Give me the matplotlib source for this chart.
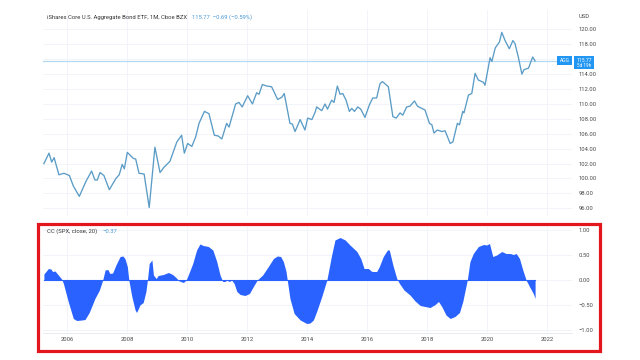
import matplotlib
matplotlib.use("Agg")
import matplotlib.pyplot as plt
from matplotlib.patches import Rectangle

plt.rcParams['font.family'] = ['Roboto', 'DejaVu Sans']

# ---------------- data ----------------
price_years = [2005.23, 2005.40, 2005.49, 2005.57, 2005.73, 2005.90, 2006.08, 2006.21, 2006.41,
               2006.63, 2006.82, 2006.93, 2007.01, 2007.10, 2007.23, 2007.41, 2007.63, 2007.74,
               2007.84, 2007.91, 2008.01, 2008.21, 2008.29, 2008.40, 2008.57, 2008.74, 2008.93,
               2009.10, 2009.23, 2009.43, 2009.66, 2009.82, 2009.91, 2010.02, 2010.16, 2010.29,
               2010.40, 2010.58, 2010.73, 2010.91, 2011.04, 2011.16, 2011.32, 2011.40, 2011.62,
               2011.73, 2011.84, 2012.02, 2012.18, 2012.32, 2012.40, 2012.51, 2012.66, 2012.82,
               2013.02, 2013.16, 2013.24, 2013.43, 2013.51, 2013.60, 2013.77, 2013.93, 2014.02,
               2014.16, 2014.27, 2014.32, 2014.49, 2014.60, 2014.68, 2014.82, 2014.90, 2015.01,
               2015.10, 2015.19, 2015.30, 2015.41, 2015.49, 2015.58, 2015.69, 2015.79, 2015.93,
               2016.08, 2016.19, 2016.32, 2016.43, 2016.51, 2016.60, 2016.71, 2016.86, 2016.97,
               2017.10, 2017.19, 2017.32, 2017.43, 2017.58, 2017.68, 2017.82, 2017.93, 2018.08,
               2018.16, 2018.23, 2018.34, 2018.49, 2018.60, 2018.77, 2018.86, 2019.01, 2019.08,
               2019.19, 2019.23, 2019.38, 2019.49, 2019.60, 2019.71, 2019.88, 2019.93, 2020.10,
               2020.16, 2020.27, 2020.41, 2020.49, 2020.60, 2020.74, 2020.86, 2020.93, 2021.04,
               2021.16, 2021.23, 2021.38, 2021.52, 2021.60]
price_values = [102.0, 103.4, 102.2, 102.8, 100.5, 100.7, 100.4, 99.0, 97.6,
                99.6, 101.0, 99.8, 99.8, 100.8, 100.4, 98.5, 100.0, 100.5,
                101.9, 101.3, 103.5, 102.7, 102.6, 100.7, 100.6, 96.1, 104.2,
                100.8, 101.5, 102.3, 104.9, 105.8, 103.4, 104.7, 104.3, 105.6,
                107.4, 109.0, 108.7, 105.8, 105.7, 105.3, 107.4, 106.9, 110.0,
                110.2, 109.6, 111.1, 110.0, 111.5, 111.3, 112.6, 112.4, 112.3,
                110.6, 110.9, 111.4, 107.4, 107.3, 106.3, 107.9, 106.5, 108.1,
                107.9, 108.9, 109.6, 109.1, 110.0, 109.3, 110.5, 110.2, 112.4,
                111.3, 111.4, 110.5, 109.0, 109.4, 109.0, 109.6, 109.3, 108.2,
                109.9, 110.8, 110.8, 112.7, 113.0, 112.7, 112.3, 108.3, 108.1,
                108.8, 108.5, 109.6, 109.7, 110.4, 109.7, 109.4, 109.2, 107.4,
                107.2, 106.1, 106.5, 106.3, 106.4, 104.7, 104.9, 107.4, 107.2,
                109.0, 108.8, 111.2, 111.4, 114.1, 113.2, 112.9, 112.5, 116.2,
                115.7, 117.5, 118.3, 119.6, 118.5, 117.4, 118.5, 118.1, 116.3,
                114.0, 114.6, 114.8, 116.3, 115.77]

cc_years = [2005.23, 2005.38, 2005.46, 2005.52, 2005.60, 2005.71, 2005.82, 2005.88, 2006.04,
            2006.21, 2006.32, 2006.49, 2006.60, 2006.74, 2006.93, 2007.08, 2007.19, 2007.27,
            2007.36, 2007.43, 2007.52, 2007.63, 2007.77, 2007.86, 2007.93, 2008.01, 2008.06,
            2008.16, 2008.27, 2008.32, 2008.43, 2008.54, 2008.63, 2008.68, 2008.74, 2008.83,
            2008.88, 2008.97, 2009.04, 2009.21, 2009.38, 2009.52, 2009.63, 2009.74, 2009.88,
            2009.97, 2010.04, 2010.19, 2010.32, 2010.43, 2010.54, 2010.71, 2010.86, 2010.99,
            2011.10, 2011.19, 2011.27, 2011.32, 2011.41, 2011.49, 2011.57, 2011.66, 2011.77,
            2011.93, 2012.08, 2012.21, 2012.34, 2012.52, 2012.71, 2012.88, 2013.01, 2013.12,
            2013.21, 2013.30, 2013.34, 2013.43, 2013.57, 2013.77, 2013.99, 2014.10, 2014.21,
            2014.32, 2014.49, 2014.66, 2014.82, 2014.93, 2015.10, 2015.27, 2015.43, 2015.66,
            2015.79, 2015.90, 2016.04, 2016.16, 2016.32, 2016.41, 2016.54, 2016.68, 2016.74,
            2016.86, 2016.99, 2017.08, 2017.23, 2017.43, 2017.60, 2017.77, 2017.93, 2018.10,
            2018.27, 2018.38, 2018.49, 2018.63, 2018.77, 2018.93, 2019.08, 2019.19, 2019.27,
            2019.34, 2019.43, 2019.54, 2019.71, 2019.88, 2019.99, 2020.08, 2020.19, 2020.32,
            2020.49, 2020.63, 2020.77, 2020.88, 2020.97, 2021.08, 2021.19, 2021.30, 2021.43,
            2021.54, 2021.60]
cc_values = [0.12, 0.23, 0.22, 0.17, 0.18, 0.10, 0.02, -0.07, -0.43,
             -0.77, -0.81, -0.80, -0.79, -0.65, -0.37, -0.20, 0.0, 0.20,
             0.21, 0.13, 0.14, 0.30, 0.47, 0.48, 0.43, 0.27, 0.0,
             -0.33, -0.60, -0.65, -0.50, -0.45, -0.23, 0.0, 0.33, 0.40,
             0.10, 0.03, 0.09, 0.11, 0.15, 0.11, 0.05, -0.02, -0.05,
             0.0, 0.10, 0.33, 0.60, 0.72, 0.69, 0.67, 0.60, 0.37,
             0.10, -0.03, -0.03, 0.0, -0.03, 0.0, -0.07, -0.23, -0.29,
             -0.31, -0.27, -0.13, 0.0, 0.10, 0.27, 0.43, 0.48, 0.47,
             0.37, 0.17, 0.0, -0.37, -0.67, -0.80, -0.87, -0.86, -0.80,
             -0.63, -0.33, 0.0, 0.50, 0.80, 0.85, 0.80, 0.70, 0.57,
             0.43, 0.23, 0.23, 0.17, 0.17, 0.27, 0.47, 0.60, 0.60,
             0.30, 0.03, -0.07, -0.20, -0.30, -0.42, -0.51, -0.53, -0.55,
             -0.49, -0.43, -0.53, -0.70, -0.77, -0.73, -0.65, -0.43, -0.20,
             0.0, 0.37, 0.53, 0.67, 0.71, 0.70, 0.73, 0.47, 0.50,
             0.57, 0.53, 0.53, 0.51, 0.53, 0.43, 0.20, 0.0, -0.15,
             -0.27, -0.37]

price_ticks = [96, 98, 100, 102, 104, 106, 108, 110, 112, 114, 116, 118, 120]
hidden_price_ticks = [116]  # covered by the last-price tag
cc_ticks = [-1.0, -0.5, 0.0, 0.5, 1.0]
year_ticks = [2006, 2008, 2010, 2012, 2014, 2016, 2018, 2020, 2022]

title_text = "iShares Core U.S. Aggregate Bond ETF, 1M, Cboe BZX"
title_vals = "115.77  \u22120.69 (\u22120.59%)"
cc_title = "CC (SPX, close, 20)"
cc_last = "\u22120.37"
last_price = 115.77
symbol = "AGG"
countdown = "5d 19h"

# ---------------- styling ----------------
W, H = 640, 360
fig = plt.figure(figsize=(6.4, 3.6), dpi=100)
fig.patch.set_facecolor('white')

line_col = '#5b9cc6'
fill_col = '#2962ff'
grid_col = '#f0f3f8'
tick_col = '#4a4a4a'
tag_col = '#2196f3'
val_col = '#4a98d3'
fs = 4.2

x0, x1 = 2005.2, 2022.83


def fx(px):
    return px / W


def fy(py):
    return 1 - py / H


# top axes
ax1 = fig.add_axes([fx(43), fy(216), fx(572) - fx(43), fy(10) - fy(216)])
ax1.plot(price_years, price_values, color=line_col, lw=0.95)
ax1.axhline(last_price, color='#b3d8f2', lw=0.9, zorder=1)
ax1.set_xlim(x0, x1)
ax1.set_ylim(94.97, 122.6)
ax1.yaxis.tick_right()
ax1.set_yticks(price_ticks)
ax1.set_yticklabels(["" if v in hidden_price_ticks else f"{v:.2f}" for v in price_ticks])
ax1.set_xticks(year_ticks)
ax1.tick_params(axis='x', length=0, labelbottom=False)
ax1.tick_params(axis='y', length=0, pad=5, labelsize=fs, labelcolor=tick_col)
ax1.grid(True, color=grid_col, lw=0.6)
ax1.set_axisbelow(True)
for s in ax1.spines.values():
    s.set_visible(False)

# bottom axes
ax2 = fig.add_axes([fx(43), fy(333), fx(572) - fx(43), fy(227) - fy(333)])
ax2.fill_between(cc_years, cc_values, 0, color=fill_col, lw=0)
ax2.plot([cc_years[0], cc_years[-1]], [0, 0], color=fill_col, lw=0.8)
ax2.set_xlim(x0, x1)
ax2.set_ylim(-1.06, 1.06)
ax2.yaxis.tick_right()
ax2.set_yticks(cc_ticks)
ax2.set_yticklabels([f"{v:.2f}".replace('-', '\u2212') for v in cc_ticks])
ax2.set_xticks(year_ticks)
ax2.set_xticklabels([str(y) for y in year_ticks])
ax2.tick_params(axis='x', length=0, pad=3, labelsize=fs, labelcolor=tick_col)
ax2.tick_params(axis='y', length=0, pad=5, labelsize=fs, labelcolor=tick_col)
ax2.grid(True, color=grid_col, lw=0.6)
ax2.set_axisbelow(True)
for k, s in ax2.spines.items():
    s.set_visible(k == 'bottom')
ax2.spines['bottom'].set_color('#e6e8ee')
ax2.spines['bottom'].set_linewidth(0.6)

# titles (value text placed right after the label text)
fig.canvas.draw()
renderer = fig.canvas.get_renderer()


def label_pair(xpx, ypx, main, extra):
    t = fig.text(fx(xpx), fy(ypx), main, fontsize=fs, color='#333333', va='center', ha='left')
    bb = t.get_window_extent(renderer=renderer)
    fig.text(bb.x1 / W + fx(5), fy(ypx), extra, fontsize=fs, color=val_col, va='center', ha='left')


label_pair(47, 17, title_text, title_vals)
label_pair(47, 231, cc_title, cc_last)

# currency label
fig.text(fx(579), fy(16), "USD", fontsize=fs, color=tick_col, va='center', ha='left')

# price tags
yp = ax1.transData.transform((x0, last_price))[1] / H
fig.patches.append(Rectangle((fx(557), yp - 0.012), fx(15), 0.026, transform=fig.transFigure,
                             facecolor=tag_col, edgecolor='none'))
fig.text(fx(564.5), yp + 0.001, symbol, fontsize=3.6, color='white', ha='center', va='center')
fig.patches.append(Rectangle((fx(574), yp - 0.023), fx(20), 0.036, transform=fig.transFigure,
                             facecolor=tag_col, edgecolor='none'))
fig.text(fx(584), yp + 0.002, f"{last_price:.2f}", fontsize=3.6, color='white', ha='center', va='center')
fig.text(fx(584), yp - 0.014, countdown, fontsize=3.3, color='white', ha='center', va='center')

# red highlight rectangle
fig.patches.append(Rectangle((fx(38), fy(351)), fx(600) - fx(38), fy(224) - fy(351),
                             transform=fig.transFigure, facecolor='none',
                             edgecolor='#e3161d', lw=2.3))

fig.savefig("out.png", dpi=100, facecolor='white')
